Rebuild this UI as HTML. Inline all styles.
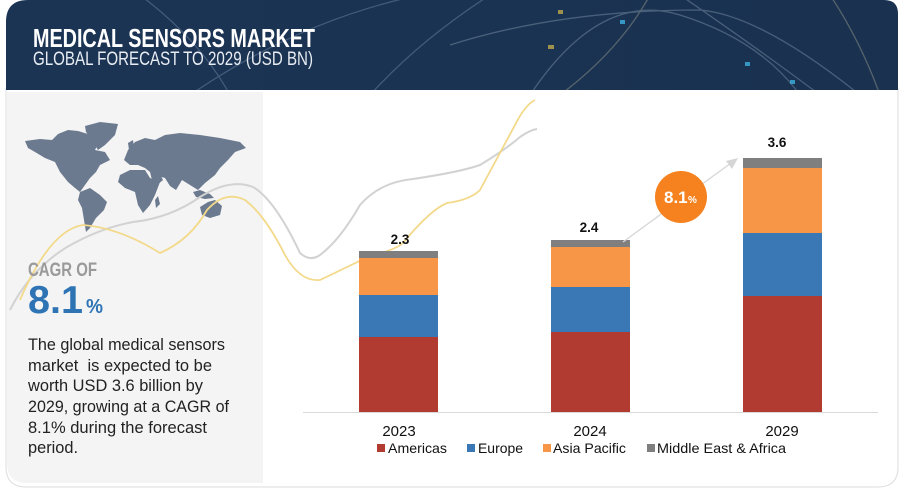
<!DOCTYPE html>
<html><head><meta charset="utf-8"><style>
html,body{margin:0;padding:0;background:#fff;}
svg{display:block;}
text{font-family:"Liberation Sans",sans-serif;}
</style></head><body>
<svg width="900" height="488" viewBox="0 0 900 488" xmlns="http://www.w3.org/2000/svg" xml:space="preserve">
<defs>
<linearGradient id="hg" x1="0" y1="0" x2="1" y2="0">
<stop offset="0" stop-color="#1c3454"/>
<stop offset="0.5" stop-color="#1b3352"/>
<stop offset="1" stop-color="#1a3250"/>
</linearGradient>
<clipPath id="hc"><path d="M28,0 H884 Q898,0 898,14 V90 H6 V22 Q6,0 28,0 Z"/></clipPath>
</defs>
<path d="M6,88 H898 V467 Q898,487 878,487 H26 Q6,487 6,467 Z" fill="#fff" stroke="#e2e2e2" stroke-width="1.2"/>
<g clip-path="url(#hc)">
<rect x="0" y="0" width="900" height="90" fill="url(#hg)"/>
<g fill="none" stroke-width="1.3" opacity="0.35">
<path d="M140,-5 Q200,40 230,95" stroke="#8aa4c0"/>
<path d="M450,45 Q560,10 700,10 Q760,15 860,95" stroke="#9fb3c8"/>
<path d="M530,95 Q600,-10 680,15 Q760,40 800,95" stroke="#9fb3c8"/>
<path d="M560,95 Q620,50 650,-5" stroke="#c8c0a0"/>
<path d="M830,-5 Q860,40 880,95" stroke="#c8c0a0"/>
<path d="M680,-5 Q760,50 820,95" stroke="#9fb3c8"/>
<path d="M370,95 Q420,40 490,-5" stroke="#8aa4c0"/>
<path d="M190,95 Q300,20 420,-5" stroke="#8aa4c0"/>
</g>
<rect x="548" y="45" width="6" height="4" fill="#d4b94a" opacity="0.7"/>
<rect x="620" y="20" width="5" height="4" fill="#3db0e0" opacity="0.8"/>
<rect x="745" y="62" width="5" height="4" fill="#3db0e0" opacity="0.8"/>
<rect x="790" y="80" width="5" height="4" fill="#3db0e0" opacity="0.8"/>
<rect x="558" y="10" width="5" height="4" fill="#d4b94a" opacity="0.7"/>
<text x="33" y="47" font-size="26" font-weight="bold" fill="#fff" textLength="282" lengthAdjust="spacingAndGlyphs">MEDICAL SENSORS MARKET</text>
<text x="33" y="65" font-size="19" fill="#e8edf3" textLength="280" lengthAdjust="spacingAndGlyphs">GLOBAL FORECAST TO 2029 (USD BN)</text>
</g>
<path d="M7,92 H263 V483 H27 Q7,483 7,463 Z" fill="#f4f4f4"/>
<g fill="#6c7a8f">
<polygon points="25,141 40,139 52,140 58,134 68,130 78,131 88,134 100,140 95,150 105,152 110,160 100,165 96,172 90,178 85,185 80,192 75,188 68,182 60,172 55,162 45,158 35,152 28,148"/>
<polygon points="85,126 100,122 118,124 115,135 105,145 98,150 92,140 86,132"/>
<polygon points="80,192 90,188 100,195 107,202 104,210 96,218 90,228 86,232 84,220 82,208 78,200"/>
<polygon points="120,175 130,170 145,170 150,178 160,182 155,195 150,205 143,213 138,205 135,192 125,188 118,182"/>
<polygon points="124,160 128,150 135,142 145,138 155,140 165,135 180,133 200,135 220,138 240,142 246,148 235,152 228,160 220,168 215,175 205,183 198,190 190,185 182,180 176,190 170,186 165,178 158,176 150,172 145,168 138,165 130,165"/>
<polygon points="150,172 160,174 163,180 156,186 152,180"/>
<polygon points="200,207 208,202 215,200 222,206 220,215 210,218 202,215"/>
<polygon points="193,192 200,190 210,194 214,198 205,199 196,197"/>
<polygon points="155,200 158,196 160,204 156,208"/>
<polygon points="128,143 133,140 134,148 129,150"/>
</g>
<path d="M10,310 Q30,270 67,247 Q100,228 133,222 Q170,218 200,197 Q230,178 253,187 Q275,200 300,253 Q310,262 320,255 Q340,240 360,205 Q380,182 413,179 Q460,172 480,165 Q505,150 520,137 Q530,130 537,129" fill="none" stroke="#d2d2d2" stroke-width="2"/>
<path d="M20,300 Q50,230 83,225 Q120,228 160,253 Q190,240 207,210 Q225,190 245,200 Q265,215 285,255 Q300,282 320,280 Q345,268 370,256 Q395,250 403,243 Q430,210 447,203 Q470,200 480,190 Q500,153 515,125 Q525,105 535,100" fill="none" stroke="#f3d98a" stroke-width="1.8"/>
<text x="28" y="276" font-size="19" font-weight="bold" fill="#9a9a9a" textLength="69" lengthAdjust="spacingAndGlyphs">CAGR OF</text>
<text x="28" y="313" font-size="39" font-weight="bold" fill="#2e74b5" textLength="55" lengthAdjust="spacingAndGlyphs">8.1</text>
<text x="86" y="313" font-size="20" font-weight="bold" fill="#2e74b5" textLength="17" lengthAdjust="spacingAndGlyphs">%</text>
<g font-size="16.5" fill="#222">
<text x="28" y="350" textLength="197" lengthAdjust="spacingAndGlyphs">The global medical sensors</text>
<text x="28" y="371" textLength="184" lengthAdjust="spacingAndGlyphs">market&#160; is expected to be</text>
<text x="28" y="391" textLength="175" lengthAdjust="spacingAndGlyphs">worth USD 3.6 billion by</text>
<text x="28" y="412" textLength="201" lengthAdjust="spacingAndGlyphs">2029, growing at a CAGR of</text>
<text x="28" y="433" textLength="179" lengthAdjust="spacingAndGlyphs">8.1% during the forecast</text>
<text x="28" y="453" textLength="50" lengthAdjust="spacingAndGlyphs">period.</text>
</g>
<line x1="303" y1="412.5" x2="878" y2="412.5" stroke="#d9d9d9" stroke-width="1"/>
<rect x="359" y="337" width="79" height="75" fill="#b13b30"/>
<rect x="359" y="295" width="79" height="42" fill="#3a78b5"/>
<rect x="359" y="258" width="79" height="37" fill="#f79646"/>
<rect x="359" y="251" width="79" height="7" fill="#7f7f7f"/>
<rect x="551" y="332" width="79" height="80" fill="#b13b30"/>
<rect x="551" y="287" width="79" height="45" fill="#3a78b5"/>
<rect x="551" y="247" width="79" height="40" fill="#f79646"/>
<rect x="551" y="240" width="79" height="7" fill="#7f7f7f"/>
<rect x="743" y="296" width="79" height="116" fill="#b13b30"/>
<rect x="743" y="233" width="79" height="63" fill="#3a78b5"/>
<rect x="743" y="168" width="79" height="65" fill="#f79646"/>
<rect x="743" y="158" width="79" height="10" fill="#7f7f7f"/>
<g font-size="13.5" font-weight="bold" fill="#111" text-anchor="middle">
<text x="400" y="244">2.3</text>
<text x="589" y="232">2.4</text>
<text x="777" y="147">3.6</text>
</g>
<line x1="623" y1="242" x2="731" y2="163" stroke="#d6d6d6" stroke-width="1.3"/>
<polygon points="738,158 726,161 732,169" fill="#d6d6d6"/>
<circle cx="681" cy="197" r="26" fill="#f5821f"/>
<text x="664" y="203" font-size="17" font-weight="bold" fill="#fff">8.1</text>
<text x="688" y="203" font-size="10" font-weight="bold" fill="#fff">%</text>
<g font-size="15" fill="#111" text-anchor="middle">
<text x="399" y="436">2023</text>
<text x="590" y="436">2024</text>
<text x="782" y="436">2029</text>
</g>
<g font-size="14" fill="#111">
<rect x="377" y="444" width="8" height="8" fill="#b13b30"/>
<text x="388" y="453" textLength="59" lengthAdjust="spacingAndGlyphs">Americas</text>
<rect x="467" y="444" width="8" height="8" fill="#3a78b5"/>
<text x="478" y="453" textLength="45" lengthAdjust="spacingAndGlyphs">Europe</text>
<rect x="543" y="444" width="8" height="8" fill="#f79646"/>
<text x="553" y="453" textLength="73" lengthAdjust="spacingAndGlyphs">Asia Pacific</text>
<rect x="647" y="444" width="8" height="8" fill="#7f7f7f"/>
<text x="657" y="453" textLength="129" lengthAdjust="spacingAndGlyphs">Middle East &amp; Africa</text>
</g>
</svg>
</body></html>
